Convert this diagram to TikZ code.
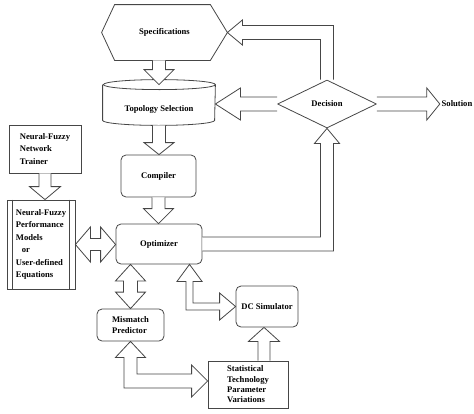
\documentclass[tikz,border=0pt]{standalone}
\usepackage{fontspec}
\setmainfont{Liberation Serif}
\usepackage{tikz}
\usetikzlibrary{shapes.geometric, calc}
\definecolor{linegray}{RGB}{70,70,70}

\begin{document}
\begin{tikzpicture}[
  x=1pt, y=-1pt,
  font=\fontsize{8.6}{12.4}\selectfont\bfseries,
  line width=0.8pt,
  every node/.style={align=left},
  sbox/.style={draw=linegray},
  rbox/.style={draw=linegray, rounded corners=5pt},
  tight/.style={font=\fontsize{8.6}{10.3}\selectfont\bfseries},
  fatline/.style={draw=linegray, fill=white},
  fat len/.store in=\fatlen, fat head/.store in=\fathead, fat shaft/.store in=\fatshaft,
  fat len=15pt, fat head=15pt, fat shaft=6.5pt,
  fatv/.style={fatline, to path={let \p1=(\tikztostart), \p2=(\tikztotarget), \n2={sign(\y2-\y1)*\fatlen} in
    (\x2-\fatshaft,\y1) -- (\x2-\fatshaft,\y2-\n2) -- (\x2-\fathead,\y2-\n2) -- (\x2,\y2)
    -- (\x2+\fathead,\y2-\n2) -- (\x2+\fatshaft,\y2-\n2) -- (\x2+\fatshaft,\y1)}},
  fath/.style={fatline, to path={let \p1=(\tikztostart), \p2=(\tikztotarget), \n2={sign(\x2-\x1)*\fatlen} in
    (\x1,\y2-\fatshaft) -- (\x2-\n2,\y2-\fatshaft) -- (\x2-\n2,\y2-\fathead) -- (\x2,\y2)
    -- (\x2-\n2,\y2+\fathead) -- (\x2-\n2,\y2+\fatshaft) -- (\x1,\y2+\fatshaft)}},
  fatvv/.style={fatline, to path={let \p1=(\tikztostart), \p2=(\tikztotarget), \n2={sign(\y2-\y1)*\fatlen} in
    (\x2,\y1) -- (\x2-\fathead,\y1+\n2) -- (\x2-\fatshaft,\y1+\n2) -- (\x2-\fatshaft,\y2-\n2)
    -- (\x2-\fathead,\y2-\n2) -- (\x2,\y2) -- (\x2+\fathead,\y2-\n2) -- (\x2+\fatshaft,\y2-\n2)
    -- (\x2+\fatshaft,\y1+\n2) -- (\x2+\fathead,\y1+\n2) -- cycle}},
  fathh/.style={fatline, to path={let \p1=(\tikztostart), \p2=(\tikztotarget), \n2={sign(\x2-\x1)*\fatlen} in
    (\x1,\y2) -- (\x1+\n2,\y2-\fathead) -- (\x1+\n2,\y2-\fatshaft) -- (\x2-\n2,\y2-\fatshaft)
    -- (\x2-\n2,\y2-\fathead) -- (\x2,\y2) -- (\x2-\n2,\y2+\fathead) -- (\x2-\n2,\y2+\fatshaft)
    -- (\x1+\n2,\y2+\fatshaft) -- (\x1+\n2,\y2+\fathead) -- cycle}},
]
\useasboundingbox (0,0) rectangle (474,413);

%% Top: specifications, topology selection, decision
\node[minimum width=125, minimum height=55, inner sep=0] (spec) at (164.5,32.5) {Specifications};
\draw[draw=linegray] (spec.west) -- ([xshift=13pt]spec.north west) -- ([xshift=-17pt]spec.north east)
  -- (spec.east) -- ([xshift=-17pt]spec.south east) -- ([xshift=13pt]spec.south west) -- cycle;

\node[minimum width=112, minimum height=40, inner sep=0, text height=12pt, text depth=0pt]
  (topo) at (159,105) {Topology Selection};
\draw[draw=linegray] (topo.north west) -- ([yshift=5pt]topo.south west)
  arc[start angle=180, end angle=360, x radius=56pt, y radius=5pt] -- (topo.north east)
  arc[start angle=0, end angle=360, x radius=56pt, y radius=5pt];

\node[diamond, draw=linegray, aspect=2.06, minimum width=99, minimum height=48, inner sep=0]
  (dec) at (327,104) {Decision};
\node[inner sep=1.5pt] (sol) at (457,104) {Solution};

%% Middle column
\node[rbox, minimum width=75, minimum height=42] (compiler) at (158.5,176) {Compiler};
\node[rbox, minimum width=86, minimum height=40] (opt) at (159,244) {Optimizer};

%% Left column
\node[sbox, minimum width=72, minimum height=48] (trainer) at (45,149)
  {Neural-Fuzzy\\Network\\Trainer};
\node[sbox, minimum width=68, minimum height=89] (models) at (41,244.5)
  {Neural-Fuzzy\\Performance\\Models\\\hspace{6pt}or\\User-defined\\Equations};
\draw[draw=linegray] ([xshift=6pt]models.north west) -- ([xshift=6pt]models.south west);
\draw[draw=linegray] ([xshift=-6pt]models.north east) -- ([xshift=-6pt]models.south east);

%% Bottom
\node[rbox, tight, minimum width=67, minimum height=32] (mism) at (130.5,325) {Mismatch\\Predictor};
\node[rbox, minimum width=62, minimum height=41] (dc) at (267,306.5) {DC Simulator};
\node[sbox, tight, minimum width=80, minimum height=47] (stat) at (248,384.5)
  {Statistical\\Technology\\Parameter\\Variations};

%% Arrows
\draw[fatv] (topo.north |- spec.south) to (topo.north);
\draw[fatv, fat len=12pt] (topo.south) to (topo.south |- compiler.north);
\draw[fatv] (compiler.south) to (compiler.south |- opt.north);
\draw[fatv, fat len=13pt, fat head=15.5pt, fat shaft=6pt] (trainer.south) to (trainer.south |- models.north);
\draw[fath, fat len=25pt, fat head=16pt, fat shaft=7pt] (dec.west) to (dec.west -| topo.east);
\draw[fath, fat len=13pt, fat head=16pt, fat shaft=7pt] (dec.east) to (sol.west);
\draw[fathh, fat head=17.5pt, fat shaft=6pt] (models.east) to (models.east -| opt.west);
\draw[fatvv, fat len=16.5pt, fat shaft=7pt] (mism.north |- opt.south) to (mism.north);
\coordinate (dcin) at ([xshift=-3pt]dc.south);
\draw[fatv, fat len=14pt, fat head=15.5pt, fat shaft=6pt] (dcin |- stat.north) to (dcin);

% decision back to specifications
\draw[fatline] let \p1=(dec.north), \p2=(spec.east) in
  (\x1+6.5pt,\y1) -- (\x1+6.5pt,\y2+7pt) -- (\x2+15pt,\y2+7pt) -- (\x2+15pt,\y2+12.5pt) -- (\x2,\y2)
  -- (\x2+15pt,\y2-12.5pt) -- (\x2+15pt,\y2-7pt) -- (\x1-6.5pt,\y2-7pt) -- (\x1-6.5pt,\y1);
% optimizer up to decision
\draw[fatline] let \p1=(opt.east), \p2=(dec.south) in
  (\x1,\y1+7pt) -- (\x2-6.5pt,\y1+7pt) -- (\x2-6.5pt,\y2-15pt) -- (\x2-12.5pt,\y2-15pt) -- (\x2,\y2)
  -- (\x2+12.5pt,\y2-15pt) -- (\x2+6.5pt,\y2-15pt) -- (\x2+6.5pt,\y1-7pt) -- (\x1,\y1-7pt);
% optimizer and DC simulator
\coordinate (optdc) at ([xshift=30.5pt]opt.south);
\draw[fatline] let \p1=(optdc), \p2=(dc.west) in
  (\x1,\y1) -- (\x1-12.5pt,\y1-17pt) -- (\x1-3.5pt,\y1-17pt) -- (\x1-3.5pt,\y2-3.5pt) -- (\x2-16pt,\y2-3.5pt)
  -- (\x2-16pt,\y2-13.5pt) -- (\x2,\y2) -- (\x2-16pt,\y2+13.5pt) -- (\x2-16pt,\y2+3.5pt) -- (\x1+3.5pt,\y2+3.5pt)
  -- (\x1+3.5pt,\y1-17pt) -- (\x1+12.5pt,\y1-17pt) -- cycle;
% mismatch and statistical variations
\coordinate (statin) at ([yshift=3.5pt]stat.west);
\draw[fatline] let \p1=(mism.south), \p2=(statin) in
  (\x1,\y1) -- (\x1-15pt,\y1-16pt) -- (\x1-6.5pt,\y1-16pt) -- (\x1-6.5pt,\y2-7pt) -- (\x2-16pt,\y2-7pt)
  -- (\x2-16pt,\y2-16pt) -- (\x2,\y2) -- (\x2-16pt,\y2+16pt) -- (\x2-16pt,\y2+7pt) -- (\x1+6.5pt,\y2+7pt)
  -- (\x1+6.5pt,\y1-16pt) -- (\x1+15pt,\y1-16pt) -- cycle;

\end{tikzpicture}
\end{document}
